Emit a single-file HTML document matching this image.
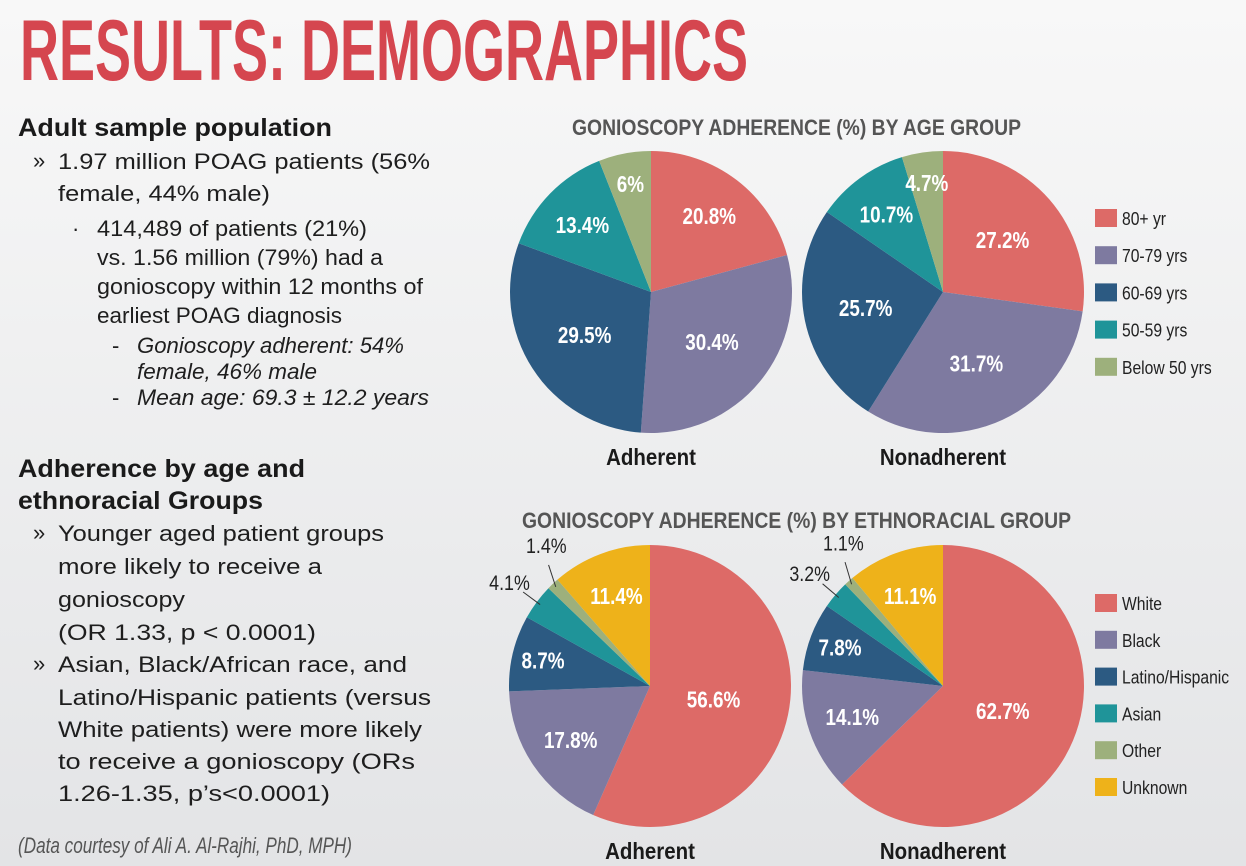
<!DOCTYPE html>
<html><head><meta charset="utf-8">
<style>
html,body{margin:0;padding:0;}
body{width:1246px;height:866px;overflow:hidden;}
svg{display:block;}
.b{font-family:"Liberation Sans",sans-serif;font-size:22px;fill:#1e1e1e;}
.h{font-family:"Liberation Sans",sans-serif;font-size:25px;font-weight:bold;fill:#1a1a1a;}
.i{font-style:italic;}
.n{font-family:"Liberation Sans Narrow","Liberation Sans",sans-serif;font-weight:bold;}
.lg{font-family:"Liberation Sans Narrow","Liberation Sans",sans-serif;font-size:18px;fill:#222;}
</style></head>
<body>
<svg id="root" width="1246" height="866" viewBox="0 0 1246 866" xmlns="http://www.w3.org/2000/svg">
<defs>
<linearGradient id="bg" x1="0" y1="0" x2="0" y2="1">
<stop offset="0" stop-color="#f8f8f8"/><stop offset="1" stop-color="#e3e4e6"/>
</linearGradient>
</defs>
<rect width="1246" height="866" fill="url(#bg)"/>
<text class="n" x="20" y="80" font-size="86" fill="#d5464f" textLength="728" lengthAdjust="spacingAndGlyphs">RESULTS: DEMOGRAPHICS</text>

<g>
<text class="h" x="18" y="136" textLength="314" lengthAdjust="spacingAndGlyphs">Adult sample population</text>
<text class="b" x="33" y="168" font-size="16">»</text>
<text class="b" x="58" y="169" textLength="372" lengthAdjust="spacingAndGlyphs">1.97 million POAG patients (56%</text>
<text class="b" x="58" y="201" textLength="212" lengthAdjust="spacingAndGlyphs">female, 44% male)</text>
<text class="b" x="72" y="236">·</text>
<text class="b" x="97" y="236" textLength="270" lengthAdjust="spacingAndGlyphs">414,489 of patients (21%)</text>
<text class="b" x="97" y="265" textLength="286" lengthAdjust="spacingAndGlyphs">vs. 1.56 million (79%) had a</text>
<text class="b" x="97" y="294" textLength="326" lengthAdjust="spacingAndGlyphs">gonioscopy within 12 months of</text>
<text class="b" x="97" y="323" textLength="245" lengthAdjust="spacingAndGlyphs">earliest POAG diagnosis</text>
<text class="b" x="112" y="353" font-size="19">-</text>
<text class="b i" x="137" y="353" font-size="20" textLength="267" lengthAdjust="spacingAndGlyphs">Gonioscopy adherent: 54%</text>
<text class="b i" x="137" y="379" font-size="20" textLength="180" lengthAdjust="spacingAndGlyphs">female, 46% male</text>
<text class="b" x="112" y="405" font-size="19">-</text>
<text class="b i" x="137" y="405" font-size="20" textLength="292" lengthAdjust="spacingAndGlyphs">Mean age: 69.3 ± 12.2 years</text>

<text class="h" x="18" y="477" textLength="287" lengthAdjust="spacingAndGlyphs">Adherence by age and</text>
<text class="h" x="18" y="509" textLength="245" lengthAdjust="spacingAndGlyphs">ethnoracial Groups</text>
<text class="b" x="33" y="540" font-size="16">»</text>
<text class="b" x="58" y="541" textLength="326" lengthAdjust="spacingAndGlyphs">Younger aged patient groups</text>
<text class="b" x="58" y="574" textLength="264" lengthAdjust="spacingAndGlyphs">more likely to receive a</text>
<text class="b" x="58" y="607" textLength="127" lengthAdjust="spacingAndGlyphs">gonioscopy</text>
<text class="b" x="58" y="640" textLength="258" lengthAdjust="spacingAndGlyphs">(OR 1.33, p &lt; 0.0001)</text>
<text class="b" x="33" y="671" font-size="16">»</text>
<text class="b" x="58" y="672" textLength="349" lengthAdjust="spacingAndGlyphs">Asian, Black/African race, and</text>
<text class="b" x="58" y="705" textLength="373" lengthAdjust="spacingAndGlyphs">Latino/Hispanic patients (versus</text>
<text class="b" x="58" y="737" textLength="364" lengthAdjust="spacingAndGlyphs">White patients) were more likely</text>
<text class="b" x="58" y="769" textLength="357" lengthAdjust="spacingAndGlyphs">to receive a gonioscopy (ORs</text>
<text class="b" x="58" y="801" textLength="272" lengthAdjust="spacingAndGlyphs">1.26-1.35, p’s&lt;0.0001)</text>
<text class="b i" x="18" y="853" font-size="17" style="fill:#555" textLength="334" lengthAdjust="spacingAndGlyphs">(Data courtesy of Ali A. Al-Rajhi, PhD, MPH)</text>
</g>

<text class="n" x="572" y="135" font-size="22" fill="#555" textLength="449" lengthAdjust="spacingAndGlyphs">GONIOSCOPY ADHERENCE (%) BY AGE GROUP</text>
<text class="n" x="522" y="528" font-size="22" fill="#555" textLength="549" lengthAdjust="spacingAndGlyphs">GONIOSCOPY ADHERENCE (%) BY ETHNORACIAL GROUP</text>

<g id="charts"></g>
</svg>
<script>
const ageCategories = ["80+ yr","70-79 yrs","60-69 yrs","50-59 yrs","Below 50 yrs"];
const ageAdherent = [20.8,30.4,29.5,13.4,6];
const ageNonadherent = [27.2,31.7,25.7,10.7,4.7];
const ageLabelsAdherent = ["20.8%","30.4%","29.5%","13.4%","6%"];
const ageLabelsNonadherent = ["27.2%","31.7%","25.7%","10.7%","4.7%"];
const ethCategories = ["White","Black","Latino/Hispanic","Asian","Other","Unknown"];
const ethAdherent = [56.6,17.8,8.7,4.1,1.4,11.4];
const ethNonadherent = [62.7,14.1,7.8,3.2,1.1,11.1];
const ethLabelsAdherent = ["56.6%","17.8%","8.7%","4.1%","1.4%","11.4%"];
const ethLabelsNonadherent = ["62.7%","14.1%","7.8%","3.2%","1.1%","11.1%"];

const ageColors = ["#dd6a67","#7e7aa0","#2c5a82","#1f9499","#9db07c"];
const ethColors = ["#dd6a67","#7e7aa0","#2c5a82","#1f9499","#9db07c","#eeb21a"];
const NS = "http://www.w3.org/2000/svg";
const root = document.getElementById("charts");

function mk(tag, attrs, parent){
  const e = document.createElementNS(NS, tag);
  for (const k in attrs) e.setAttribute(k, attrs[k]);
  (parent||root).appendChild(e);
  return e;
}
function squeeze(t, s){
  const w = t.getComputedTextLength();
  if (w > 0) {
    t.setAttribute("textLength", (w * s).toFixed(1));
    t.setAttribute("lengthAdjust", "spacingAndGlyphs");
  }
}
function pt(cx, cy, r, frac){
  const a = frac * 2 * Math.PI;
  return [cx + r * Math.sin(a), cy - r * Math.cos(a)];
}
function pie(cx, cy, r, values, labels, colors, name, title){
  const g = mk("g", {});
  
  
  const tot = values.reduce((a,b)=>a+b,0);
  let cum = 0, prevOut = false;
  values.forEach((v,i)=>{
    const f0 = cum / tot, f1 = (cum + v) / tot;
    cum += v;
    const p0 = pt(cx,cy,r,f0), p1 = pt(cx,cy,r,f1);
    const large = (f1 - f0) > 0.5 ? 1 : 0;
    const path = mk("path", {d:`M${cx},${cy} L${p0[0]},${p0[1]} A${r},${r} 0 ${large} 1 ${p1[0]},${p1[1]} Z`, fill:colors[i]}, g);
    
    
    const p = v / tot, mid = (f0 + f1) / 2;
    let k, outside = false;
    if (p < 0.045) { k = 1.24; outside = true; }
    else if (p > 0.5) k = 0.46;
    else if (p >= 0.25) k = 0.56;
    else if (p >= 0.1) k = 0.68;
    else k = 0.78;
    const lmid = (outside && prevOut) ? mid + 0.02 : mid;
    const lp = pt(cx,cy,r*k,lmid);
    if (outside) {
      const a = pt(cx,cy,r*0.97,mid), b = pt(cx,cy,r*1.12,(mid+lmid)/2);
      const ln = mk("line", {x1:a[0],y1:a[1],x2:b[0],y2:b[1],stroke:"#333","stroke-width":1}, g);
      
      
    }
    const t = mk("text", {x:lp[0], y:lp[1]+8, "text-anchor":"middle", class:"n", "font-size": outside ? 21 : 23, fill: outside ? "#222" : "#fff", style: outside ? "font-weight:normal" : ""}, g);
    t.textContent = labels[i];
    squeeze(t, outside ? 0.85 : 0.82);
    
    
    prevOut = outside;
  });
  const tt = mk("text", {x:cx, y:cy+r+32, "text-anchor":"middle", class:"n", "font-size":23, fill:"#1a1a1a"}, g);
  tt.textContent = title;
  squeeze(tt, 0.89);
  
  
}
function legend(x, y0, dy, cats, colors, name){
  const g = mk("g", {});
  
  
  cats.forEach((c,i)=>{
    const y = y0 + i*dy;
    const r = mk("rect", {x:x, y:y-9, width:22, height:18, fill:colors[i]}, g);
    
    
    const t = mk("text", {x:x+27, y:y+7, class:"lg"}, g);
    t.textContent = c;
    squeeze(t, 0.87);
    
    
  });
}
pie(651, 292, 141, ageAdherent, ageLabelsAdherent, ageColors, "age-adherent-pie", "Adherent");
pie(943, 292, 141, ageNonadherent, ageLabelsNonadherent, ageColors, "age-nonadherent-pie", "Nonadherent");
pie(650, 686, 141, ethAdherent, ethLabelsAdherent, ethColors, "eth-adherent-pie", "Adherent");
pie(943, 686, 141, ethNonadherent, ethLabelsNonadherent, ethColors, "eth-nonadherent-pie", "Nonadherent");
legend(1095, 218, 37.2, ageCategories, ageColors, "age-legend");
legend(1095, 603, 36.8, ethCategories, ethColors, "eth-legend");
</script>
</body></html>
